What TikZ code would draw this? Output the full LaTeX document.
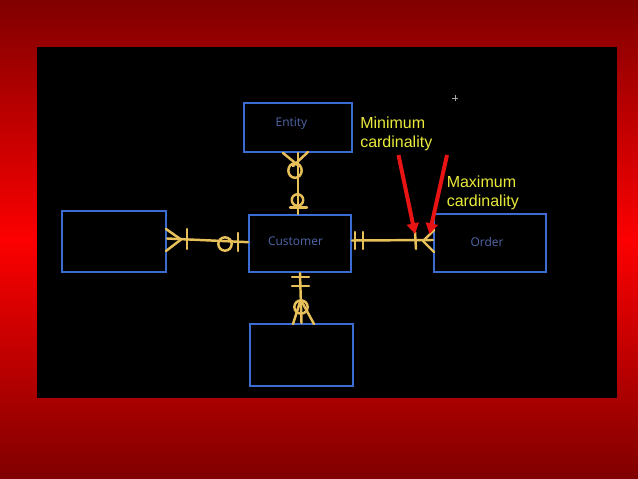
\documentclass[tikz,border=0pt]{standalone}
\usepackage{fontspec}
\setmainfont{Liberation Sans}
\newfontfamily\boxfont{Open Sans}
\usetikzlibrary{arrows.meta}
\definecolor{bgdark}{RGB}{128,0,0}
\definecolor{bgbright}{RGB}{252,0,0}
\definecolor{boxblue}{RGB}{58,108,210}
\definecolor{boxtext}{RGB}{80,104,170}
\definecolor{connyellow}{RGB}{232,192,90}
\definecolor{labyellow}{RGB}{235,235,60}
\definecolor{arrred}{RGB}{232,20,20}
\begin{document}
\begin{tikzpicture}[x=0.75pt,y=-0.75pt,
 entbox/.style={draw=boxblue, line width=1.5pt, inner sep=0pt},
 boxlabel/.style={text=boxtext, font=\boxfont\fontsize{9}{11}\selectfont},
 conn/.style={draw=connyellow, line width=1.85pt, line cap=round, line join=round},
 note/.style={text=labyellow, font=\fontsize{12}{14.25}\selectfont, align=left, inner sep=0pt, anchor=north west},
 redarrow/.style={draw=arrred, fill=arrred, line width=3pt, -{Triangle[length=8pt,width=9pt]}}]
\useasboundingbox (0pt,0pt) rectangle (478.5pt,-358.5pt);
% background gradient: dark top, bright middle, dark bottom
\shade[top color=bgdark, bottom color=bgbright] (0pt,0pt) rectangle (478.5pt,-180pt);
\shade[top color=bgbright, bottom color=bgdark] (0pt,-179.5pt) rectangle (478.5pt,-358.5pt);
\fill[black] (37,47) rectangle (617,398);
% plus mark
\draw[gray!70, line width=0.6pt] (452,98) -- (458,98) (455,95) -- (455,101);
% entity boxes
\node[entbox, minimum width=81pt, minimum height=36.75pt, label={[boxlabel,xshift=-4.9pt,yshift=2.6pt]center:Entity}] (ent) at (298,127.5) {};
\node[entbox, minimum width=76.5pt, minimum height=42.75pt, label={[boxlabel,xshift=-3.4pt,yshift=1.9pt]center:Customer}] (cust) at (300,243.5) {};
\node[entbox, minimum width=78pt, minimum height=45.75pt] (left) at (114,241.5) {};
\node[entbox, minimum width=84pt, minimum height=43.5pt, label={[boxlabel,xshift=-2.25pt,yshift=0.75pt]center:Order}] (ord) at (490,243) {};
\node[entbox, minimum width=77.25pt, minimum height=46.5pt] (bot) at (301.5,355) {};
% Entity -- Customer
\draw[conn] (ent.south) -- (ent.south |- cust.north);
\draw[conn] (283,153) -- (299,166) (308,152) -- (293,166);
\draw[conn] (295,170.5) circle[x radius=5pt, y radius=5.5pt];
\draw[conn] (297.5,200) circle[radius=4.3pt];
\draw[conn] (290,207.5) -- (307,207.5);
% left -- Customer
\draw[conn] ([yshift=2.25pt]left.east) -- ([yshift=1pt]cust.west);
\draw[conn] (166,229) -- (181,239.5) -- (166,251);
\draw[conn] (187,229) -- (187,249);
\draw[conn] (225,244) circle[radius=5pt];
\draw[conn] (238,233) -- (238,251);
% Customer -- Order
\draw[conn] ([yshift=2.25pt]cust.east) -- ([yshift=2.25pt]ord.west);
\draw[conn] (355,232) -- (355,249) (363,232) -- (363,249);
\draw[conn] (415,232) -- (416,249);
\draw[conn] (434,230) -- (423,241) -- (434,252);
% Customer -- bottom
\draw[conn] (cust.south) -- (bot.north);
\draw[conn] (292,277) -- (309,277) (292,286) -- (309,286);
\draw[conn] (301,307) circle[radius=5pt];
\draw[conn] (300,302) -- (293,324) (302,302) -- (314,324);
% labels
\node[note] (minlab) at (360,116.5) {Minimum\\cardinality};
\node[note] (maxlab) at (446.5,175.5) {Maximum\\cardinality};
% red arrows
\coordinate (a1s) at (398.5,155);
\coordinate (a1e) at (415,234);
\coordinate (a2s) at (447,155);
\coordinate (a2e) at (429.5,234);
\draw[redarrow] (a1s) -- (a1e);
\draw[redarrow] (a2s) -- (a2e);
\end{tikzpicture}
\end{document}
